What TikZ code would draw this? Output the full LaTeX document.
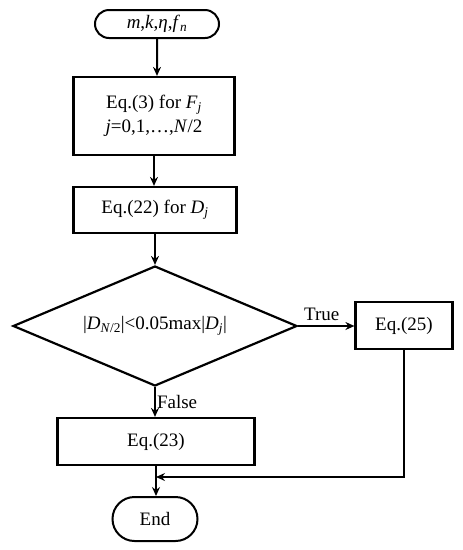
\documentclass[tikz,border=0pt]{standalone}
\usepackage{fontspec}
\setmainfont{Liberation Serif}
\usetikzlibrary{shapes.geometric,shapes.misc,arrows.meta}
\begin{document}
\begin{tikzpicture}[x=1pt,y=-1pt,
  every node/.style={font=\fontsize{19}{24}\selectfont},
  proc/.style={draw,line width=2.2pt,rectangle,inner sep=0pt,align=center},
  term/.style={draw,line width=2pt,rounded rectangle,inner sep=0pt},
  dec/.style={draw,line width=2.2pt,diamond,aspect=2.37,inner sep=0pt,minimum width=284pt,minimum height=120pt},
  conn/.style={line width=2pt,-{Stealth[length=9pt,width=8pt,inset=3pt]}},
  lbl/.style={inner sep=1pt}]
\useasboundingbox (0,0) rectangle (463,550);
\node[term,minimum width=124pt,minimum height=28pt] (start) at (157,24) {\textit{m},\textit{k},\textit{η},\textit{f}\textsubscript{\textit{n}}};
\node[proc,minimum width=161pt,minimum height=78pt] (b1) at (154,116) {Eq.(3) for \textit{F}\textsubscript{\textit{j}}\\\textit{j}=0,1,…,\textit{N}/2};
\node[proc,minimum width=163pt,minimum height=46pt] (b2) at (155,210) {Eq.(22) for \textit{D}\textsubscript{\textit{j}}};
\node[dec] (d) at (155,326) {|\textit{D}\textsubscript{\textit{N}/2}|<0.05max|\textit{D}\textsubscript{\textit{j}}|};
\node[proc,minimum width=97pt,minimum height=47pt] (e25) at (404,325.5) {Eq.(25)};
\node[proc,minimum width=197pt,minimum height=47pt] (e23) at (156,441.5) {Eq.(23)};
\node[term,minimum width=85pt,minimum height=44pt] (end) at (155,519) {End};
\coordinate (m) at (156,477);
\draw[conn] (start) -- (start|-b1.north);
\draw[conn] (b1) -- (b1|-b2.north);
\draw[conn] (b2.south) -- (d.north);
\draw[conn] (d.east) -- node[lbl,above=3pt,pos=0.42] {True} (e25.west|-d.east);
\draw[conn] (d.south) -- node[lbl,right,pos=0.5] {False} (d.south|-e23.north);
\draw[conn] (e23.south-|m) -- (m|-end.north);
\draw[conn] (e25.south) |- (m);
\end{tikzpicture}
\end{document}
